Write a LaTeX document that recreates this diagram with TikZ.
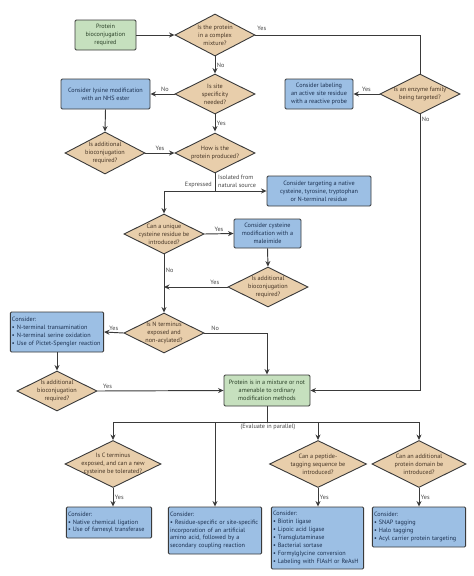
\documentclass[tikz,border=0pt]{standalone}
\usepackage{fontspec}
\setmainfont{PT Sans}
\usetikzlibrary{shapes.geometric,arrows.meta}
\hyphenpenalty=10000
\exhyphenpenalty=10000
\hbadness=10000
\hfuzz=20pt
\definecolor{greenf}{HTML}{C6E0BE}
\definecolor{bluef}{HTML}{9CBFE4}
\definecolor{tanf}{HTML}{E8CEAB}
\definecolor{linec}{HTML}{3A3A3A}
\definecolor{bluet}{HTML}{1B3050}
\definecolor{tant}{HTML}{453424}
\definecolor{greent}{HTML}{2A4027}
\definecolor{labt}{HTML}{444444}
\tikzset{
  txt/.style={font=\fontsize{6.2}{7.9}\selectfont},
  box/.style={draw=linec, line width=0.9pt, rounded corners=1.2pt, inner xsep=2.5pt, inner ysep=1.5pt, align=center, txt},
  gbox/.style={box, fill=greenf, text=greent},
  bbox/.style={box, fill=bluef, text=bluet},
  lbox/.style={bbox, align=left, inner xsep=1.6pt, text width=#1},
  dia/.style={diamond, draw=linec, line width=0.9pt, fill=tanf, inner sep=0pt},
  dtext/.style={txt, text=tant, align=center},
  lab/.style={txt, text=labt, inner sep=1.5pt},
  con/.style={draw=linec, line width=0.95pt},
  arr/.style={con, -{Stealth[length=5.5pt,width=5pt]}},
}
\begin{document}
\begin{tikzpicture}[x=1pt,y=-1pt]
\useasboundingbox (0,0) rectangle (474,576);
% boxes
\node[gbox, minimum width=61, minimum height=30] (start) at (105.5,35) {Protein\\bioconjugation\\required};
\node[bbox, minimum width=68, minimum height=30] (probe) at (319,94) {Consider labeling\\an active site residue\\with a reactive probe};
\node[bbox, minimum width=89, minimum height=30] (lys) at (105.5,94) {Consider lysine modification\\with an NHS ester};
\node[bbox, minimum width=104, minimum height=30] (native) at (319,191) {Consider targeting a native\\cysteine, tyrosine, tryptophan\\or N-terminal residue};
\node[bbox, minimum width=67, minimum height=29] (cysbox) at (267.5,233.5) {Consider cysteine\\modification with a\\maleimide};
\node[lbox=90, minimum height=40] (nbox) at (57,332) {Consider:\\• N-terminal transamination\\• N-terminal serine oxidation\\• Use of Pictet-Spengler reaction};
\node[gbox, minimum width=86, minimum height=31] (mix) at (267,390.5) {Protein is in a mixture or not\\amenable to ordinary\\modification methods};
\node[lbox=82, minimum height=31] (cbox) at (109,522.5) {Consider:\\• Native chemical ligation\\• Use of farnesyl transferase};
\node[lbox=90, minimum height=47] (rbox) at (215,530.5) {Consider:\\• Residue-specific or site-specific\\incorporation of an artificial\\amino acid, followed by a\\secondary coupling reaction};
\node[lbox=89, minimum height=62] (pbox) at (317.5,538) {Consider:\\• Biotin ligase\\• Lipoic acid ligase\\• Transglutaminase\\• Bacterial sortase\\• Formylglycine conversion\\• Labeling with FlAsH or ReAsH};
\node[lbox=90, minimum height=40] (dbox) at (419,527) {Consider:\\• SNAP tagging\\• Halo tagging\\• Acyl carrier protein targeting};
% diamonds
\node[dia, minimum width=80, minimum height=42, label={[dtext]center:Is the protein\\in a complex\\mixture?}] (d1) at (215,35) {};
\node[dia, minimum width=80, minimum height=40, label={[dtext]center:Is site\\specificity\\needed?}] (d2) at (215,94) {};
\node[dia, minimum width=80, minimum height=40, label={[dtext]center:Is an enzyme family\\being targeted?}] (enz) at (420,94) {};
\node[dia, minimum width=80, minimum height=42, label={[dtext]center:Is additional\\bioconjugation\\required?}] (add1) at (105,153) {};
\node[dia, minimum width=80, minimum height=40, label={[dtext]center:How is the\\protein produced?}] (how) at (215,153) {};
\node[dia, minimum width=80, minimum height=40, label={[dtext]center:Can a unique\\cysteine residue be\\introduced?}] (cys) at (164,234) {};
\node[dia, minimum width=80, minimum height=40, label={[dtext]center:Is additional\\bioconjugation\\required?}] (add2) at (268,287) {};
\node[dia, minimum width=80, minimum height=40, label={[dtext]center:Is N terminus\\exposed and\\non-acylated?}] (nterm) at (164,333) {};
\node[dia, minimum width=80, minimum height=40, label={[dtext]center:Is additional\\bioconjugation\\required?}] (add3) at (57,391) {};
\node[dia, minimum width=96, minimum height=47, label={[dtext]center:Is C terminus\\exposed, and can a new\\cysteine be tolerated?}] (cterm) at (113,464) {};
\node[dia, minimum width=97, minimum height=47, label={[dtext]center:Can a peptide-\\tagging sequence be\\introduced?}] (pep) at (318,464) {};
\node[dia, minimum width=94, minimum height=47, label={[dtext]center:Can an additional\\protein domain be\\introduced?}] (dom) at (419,464) {};
% junction coordinates
\coordinate (hj) at (215,191);
\coordinate (bj) at (267,422);
% connectors
\draw[arr] (start) -- (d1);
\draw[arr] (d1.south) -- node[lab, right] (l1) {No} (d2.north);
\draw[con] (d1.east) node[lab, above right, yshift=2] (l2) {Yes} -| (enz.north);
\draw[arr] (enz.west) -- node[lab, above] (l3) {Yes} (probe.east);
\draw[arr] (enz.south) node[lab, below right, yshift=-1] (l4) {No} |- (mix.east);
\draw[arr] (d2.west) -- node[lab, above, pos=0.4] (l5) {No} (lys.east);
\draw[arr] (d2.south) -- node[lab, right] (l6) {Yes} (add1.north -| how.north);
\draw[arr] (lys.south) -- (add1.north);
\draw[arr] (add1.east) -- node[lab, above] (l7) {Yes} (how.west);
\draw[con] (how.south) -- (hj);
\draw[arr] (hj) -| (cys.north);
\draw[arr] (hj) -- (native.west);
\node[lab, anchor=south east, inner sep=1pt] (l8) at (213,189) {Expressed};
\node[lab, anchor=south west, align=left, inner sep=1pt] (l9) at (217,189) {Isolated from\\natural source};
\draw[arr] (cys.east) -- node[lab, above] (l10) {Yes} (cysbox.west);
\draw[arr] (cysbox.south) -- (add2.north);
\draw[arr] (add2.west) -- node[lab, above, pos=0.2] (l11) {Yes} (add2.west -| cys.south);
\draw[arr] (cys.south) -- node[lab, right, pos=0.27] (l12) {No} (nterm.north);
\draw[arr] (nterm.west) -- node[lab, above] (l13) {Yes} (nbox.east);
\draw[arr] (nterm.east) -- node[lab, above, pos=0.17] (l14) {No} (nterm.east -| mix.north) -- (mix.north);
\draw[arr] (nbox.south) -- (add3.north);
\draw[arr] (add3.east) -- node[lab, above, pos=0.08] (l15) {Yes} (mix.west);
\draw[con] (mix.south) -- (bj);
\draw[arr] (bj) -| (cterm.north);
\draw[arr] (bj) -| (rbox.north);
\draw[arr] (bj) -| (pep.north);
\draw[arr] (bj) -| (dom.north);
\node[lab, below, inner sep=1pt] (l16) at (268,423) {(Evaluate in parallel)};
\draw[arr] (cterm.south) -- node[lab, right] (l17) {Yes} (cbox.north -| cterm.south);
\draw[arr] (pep.south) -- node[lab, right] (l18) {Yes} (pbox.north -| pep.south);
\draw[arr] (dom.south) -- node[lab, right] (l19) {Yes} (dbox.north);
\end{tikzpicture}
\end{document}
